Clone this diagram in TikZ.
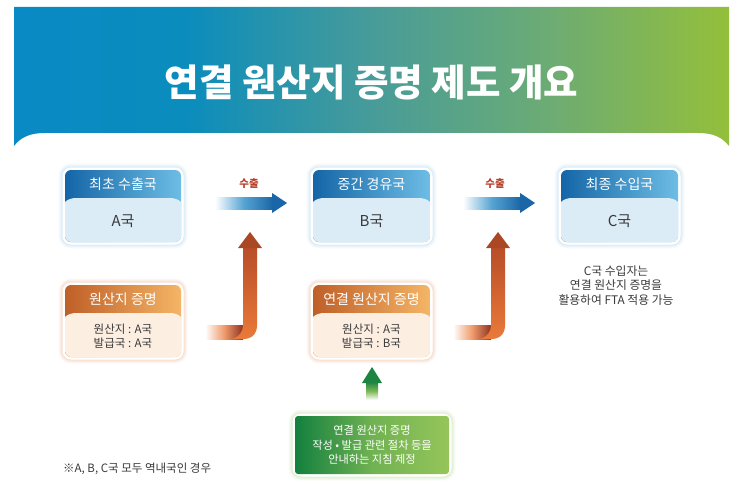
\documentclass[tikz,border=0pt]{standalone}
\usepackage{fontspec}
\setmainfont{Noto Sans CJK KR}
\usetikzlibrary{calc}
\definecolor{blueLeft}{HTML}{1465A6}
\definecolor{blueRight}{HTML}{6DBDE5}
\definecolor{blueBody}{HTML}{DCECF6}
\definecolor{blueGlow}{HTML}{BFE0F2}
\definecolor{orgLeft}{HTML}{BF5F28}
\definecolor{orgRight}{HTML}{F4B566}
\definecolor{orgBody}{HTML}{FDEEE2}
\definecolor{orgGlow}{HTML}{F3C6AE}
\definecolor{grnLeft}{HTML}{12803E}
\definecolor{grnRight}{HTML}{95C55A}
\definecolor{grnGlow}{HTML}{C6E2B0}
\definecolor{inkdark}{HTML}{3A3A3A}
\definecolor{exportred}{HTML}{B9412C}
\definecolor{flowblue}{HTML}{1A66A6}
\definecolor{floworgtop}{HTML}{B94E28}
\definecolor{floworgbot}{HTML}{EA7A3A}
\definecolor{flowdark}{HTML}{8E3220}
\definecolor{flowgreen}{HTML}{1D8442}
\pgfdeclarehorizontalshading{bannershade}{100bp}{
 rgb(0bp)=(0.04,0.54,0.77);
 rgb(25bp)=(0.04,0.54,0.77);
 rgb(37bp)=(0.04,0.55,0.74);
 rgb(50bp)=(0.28,0.61,0.60);
 rgb(62bp)=(0.42,0.67,0.46);
 rgb(75bp)=(0.58,0.75,0.23);
 rgb(100bp)=(0.58,0.75,0.23)}
\tikzset{
  labelwhite/.style={text=white,inner sep=0pt,align=center},
  labeldark/.style={text=inkdark,inner sep=0pt,align=center},
  exportlabel/.style={text=exportred,inner sep=0pt,font=\fontsize{10.5}{12}\selectfont\bfseries},
  headfont/.style={font=\fontsize{14}{16}\selectfont},
  bluetext/.style={font=\fontsize{15}{18}\selectfont},
  orgtext/.style={font=\fontsize{11.5}{14.5}\selectfont},
}
\newcommand{\glowframe}[5]{%
  \foreach \wd/\op in {9/.10,7/.14,5/.18,3/.25}{
    \draw[draw=#1Glow,opacity=\op,line width=\wd pt,rounded corners=8pt] (#2,#3) rectangle (#4,#5);
  }
  \draw[draw=white,fill=white,line width=1pt,rounded corners=8pt] (#2,#3) rectangle (#4,#5);
}
% family, name, x0,y0,x1,y1, header, body y, body text
\newcommand{\cardbox}[9]{%
  \glowframe{#1}{#3}{#4}{#5}{#6}
  \pgfmathsetmacro{\cxm}{(#3+#5)/2}
  \pgfmathsetmacro{\cwd}{#5-#3}
  \pgfmathsetmacro{\chg}{#6-#4}
  \node[minimum width=\cwd pt,minimum height=\chg pt,inner sep=0pt] (#2) at (\cxm,{(#4+#6)/2}) {};
  \path[left color=#1Left,right color=#1Right,rounded corners=6pt] (#3+2,#4+2) rectangle (#5-2,#6-2);
  \begin{scope}
    \clip[rounded corners=6pt] (#3+2,#4+2) rectangle (#5-2,#6-2);
    \path[fill=#1Body]
      (#3+2,#6-2) -- (#3+2,#4+34) .. controls (#3+5,#4+31) and (#3+9,#4+30) .. (#3+14,#4+30)
      -- (#5-14,#4+30) .. controls (#5-9,#4+30) and (#5-5,#4+31) .. (#5-2,#4+34) -- (#5-2,#6-2) -- cycle;
  \end{scope}
  \node[labelwhite,headfont] (#2head) at (\cxm,#4+16.5) {#7};
  \node[labeldark,#1text] (#2body) at (\cxm,#8) {#9};
}
\newcommand{\blueflow}[1]{%
  \begin{scope}[shift={(#1)}]
    \path[left color=white,right color=flowblue,middle color=blueRight!70!flowblue] (0,-6) rectangle (58,6);
    \path[fill=flowblue] (57,-6) -- (57,-10) -- (72,0) -- (57,10) -- (57,6) -- cycle;
  \end{scope}
}
\newcommand{\orangeflow}[1]{%
  \begin{scope}[shift={(#1)}]
    \path[left color=white,right color=flowdark,middle color=floworgbot!75!white] (0,325) rectangle (38,339);
    \path[top color=floworgtop,bottom color=floworgbot]
      (38,248) -- (38,325) .. controls (38,332) and (34,337) .. (27,339)
      -- (38,339) .. controls (47,339) and (52,334) .. (52,325) -- (52,248) -- cycle;
    \path[fill=floworgtop!92!black] (33,248) -- (45,232) -- (57,248) -- (52,248) -- (38,248) -- cycle;
  \end{scope}
}
\begin{document}
\begin{tikzpicture}[x=1pt,y=-1pt]
\useasboundingbox (0,0) rectangle (743,489);
\fill[white] (0,0) rectangle (743,489);
% banner
\path[shading=bannershade]
  (14,7) -- (729,7) -- (729,146) .. controls (722,137) and (713,133) .. (698,133)
  -- (45,133) .. controls (30,133) and (21,137) .. (14,146) -- cycle;
\node[labelwhite,font=\fontsize{37.5}{42}\selectfont\bfseries] (title) at (371.5,82) {연결 원산지 증명 제도 개요};
% top cards
\cardbox{blue}{cardA}{63}{168}{183}{244}{최초 수출국}{221}{A국}
\cardbox{blue}{cardB}{311}{168}{432}{244}{중간 경유국}{221}{B국}
\cardbox{blue}{cardC}{559}{168}{680}{244}{최종 수입국}{221}{C국}
% origin cards
\cardbox{org}{certA}{63}{283}{183}{359}{원산지 증명}{336}{원산지 : A국\\발급국 : A국}
\cardbox{org}{certB}{311}{283}{432}{359}{연결 원산지 증명}{336}{원산지 : A국\\발급국 : B국}
% green box
\glowframe{grn}{293}{414}{451}{476}
\node[minimum width=154pt,minimum height=58pt,inner sep=0pt,rounded corners=3pt,left color=grnLeft,right color=grnRight,middle color=grnRight!72!grnLeft] (guide) at (372,445) {};
\node[labelwhite,font=\fontsize{11.2}{14.7}\selectfont] (guidetext) at (guide.center) {연결 원산지 증명\\작성 • 발급 관련 절차 등을\\안내하는 지침 제정};
% flow arrows
\coordinate (expA) at (215,203);
\coordinate (expB) at (463,203);
\blueflow{expA}
\blueflow{expB}
\node[exportlabel] (labA) at (249,184) {수출};
\node[exportlabel] (labB) at (495,184) {수출};
\coordinate (orgA) at (205,0);
\coordinate (orgB) at (453,0);
\orangeflow{orgA}
\orangeflow{orgB}
% green arrow
\coordinate (grnTip) at (372,367);
\path[top color=flowgreen,bottom color=white,middle color=grnRight!80!flowgreen] (366,382) rectangle (378,400);
\path[fill=flowgreen] (grnTip) -- (382,383) -- (362,383) -- cycle;
% texts
\node[labeldark,font=\fontsize{11.8}{14.5}\selectfont] (note) at (616,285.5) {C국 수입자는\\연결 원산지 증명을\\활용하여 FTA 적용 가능};
\node[labeldark,anchor=west,font=\fontsize{11.5}{13}\selectfont] (foot) at (63,469) {※A, B, C국 모두 역내국인 경우};
\end{tikzpicture}
\end{document}
